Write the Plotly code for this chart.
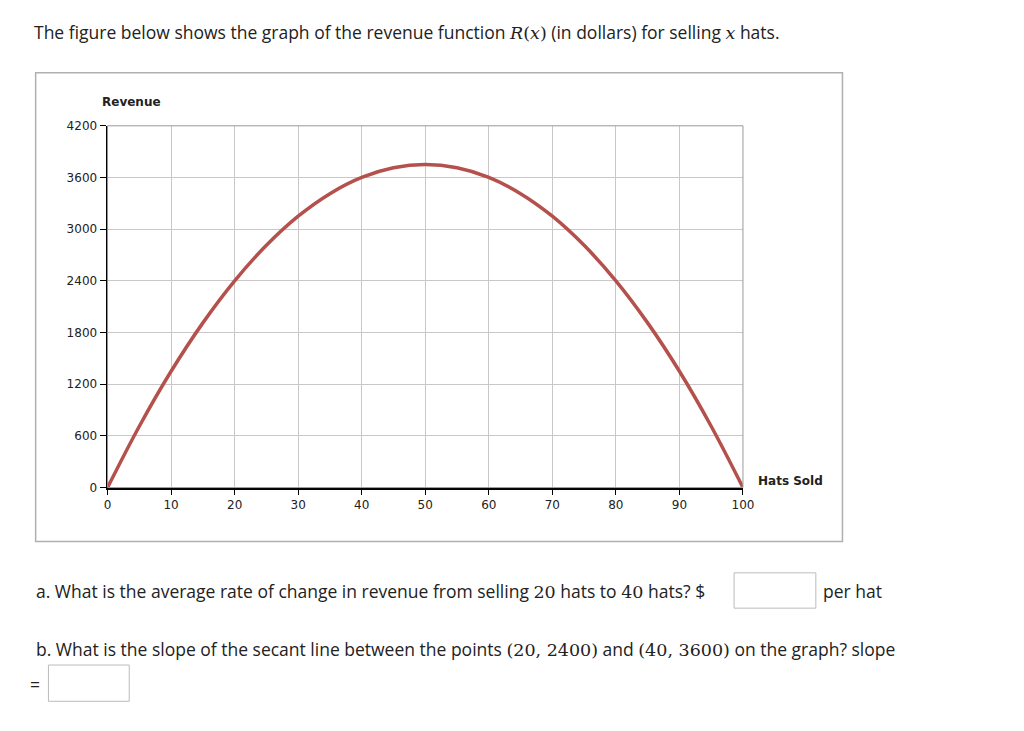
import plotly.graph_objects as go

# page body keeps an 8px margin, so the figure is sized to fit inside it
OFF = 8
W, H = 1024 - 2 * OFF, 731 - 2 * OFF

# values
hats = [0, 5, 10, 15, 20, 25, 30, 35, 40, 45, 50, 55, 60, 65, 70, 75, 80, 85, 90, 95, 100]
revenue = [0, 712, 1350, 1912, 2400, 2812, 3150, 3412, 3600, 3712, 3750,
           3712, 3600, 3412, 3150, 2812, 2400, 1912, 1350, 712, 0]
x_ticks = [0, 10, 20, 30, 40, 50, 60, 70, 80, 90, 100]
y_ticks = [0, 600, 1200, 1800, 2400, 3000, 3600, 4200]


def px(x):
    return (x - OFF) / W


def py(y):
    return 1 - (y - OFF) / H


fig = go.Figure()
fig.add_trace(go.Scatter(x=hats, y=revenue, mode="lines", line_shape="spline",
                         line=dict(color="#b5514c", width=3.5), hoverinfo="skip"))

tick_font = dict(family="DejaVu Sans", size=12, color="#222")
fig.update_xaxes(domain=[px(105), px(750)], range=[0, 100], tickvals=x_ticks,
                 showgrid=True, gridcolor="#c8c8c8", gridwidth=1,
                 showline=True, linecolor="#000", linewidth=2,
                 ticks="outside", ticklen=5, tickcolor="#000", tickfont=tick_font,
                 zeroline=False, fixedrange=True)
fig.update_yaxes(domain=[py(490), py(121)], range=[0, 4200], tickvals=y_ticks,
                 showgrid=True, gridcolor="#c8c8c8", gridwidth=1,
                 showline=True, linecolor="#000", linewidth=2,
                 ticks="outside", ticklen=6, tickcolor="#000", tickfont=tick_font,
                 zeroline=False, fixedrange=True)

shapes = [
    # outer chart frame
    dict(type="rect", xref="paper", yref="paper", x0=px(32), x1=px(851), y0=py(545), y1=py(67),
         line=dict(color="#b0b0b0", width=1.5)),
    # plot area top/right border
    dict(type="rect", xref="paper", yref="paper", x0=px(105), x1=px(750), y0=py(490), y1=py(121),
         line=dict(color="#9a9a9a", width=1)),
    # answer boxes
    dict(type="rect", xref="paper", yref="paper", x0=px(741), x1=px(824), y0=py(613), y1=py(577),
         line=dict(color="#bbbbbb", width=1)),
    dict(type="rect", xref="paper", yref="paper", x0=px(45), x1=px(127), y0=py(708), y1=py(671),
         line=dict(color="#bbbbbb", width=1)),
]

serif = "font-family:'DejaVu Serif'"
body = dict(family="Open Sans", size=17.5, color="#222")


def note(x, y, text, font=body, xanchor="left"):
    return dict(xref="paper", yref="paper", x=px(x), y=py(y), text=text, showarrow=False,
                xanchor=xanchor, yanchor="middle", font=font)


annotations = [
    note(28, 25, "The figure below shows the graph of the revenue function "
         f"<span style=\"{serif}\"><i>R</i>(<i>x</i>)</span> (in dollars) for selling "
         f"<span style=\"{serif}\"><i>x</i></span> hats.", font=dict(family="Open Sans", size=17.5, color="#222")),
    note(97, 97, "<b>Revenue</b>", font=dict(family="DejaVu Sans", size=12, color="#222")),
    note(763, 483, "<b>Hats Sold</b>", font=dict(family="DejaVu Sans", size=12, color="#222")),
    note(30, 595, "a. What is the average rate of change in revenue from selling "
         f"<span style=\"{serif}\">20</span> hats to <span style=\"{serif}\">40</span> hats? $"),
    note(829, 595, "per hat"),
    note(30, 655, "b. What is the slope of the secant line between the points "
         f"<span style=\"{serif}\">(20, 2400)</span> and <span style=\"{serif}\">(40, 3600)</span> on the graph? slope"),
    note(24, 690, "="),
]

fig.update_layout(width=W, height=H, margin=dict(l=0, r=0, t=0, b=0),
                  paper_bgcolor="white", plot_bgcolor="white", showlegend=False,
                  shapes=shapes, annotations=annotations)

fig.write_html("out.html")
